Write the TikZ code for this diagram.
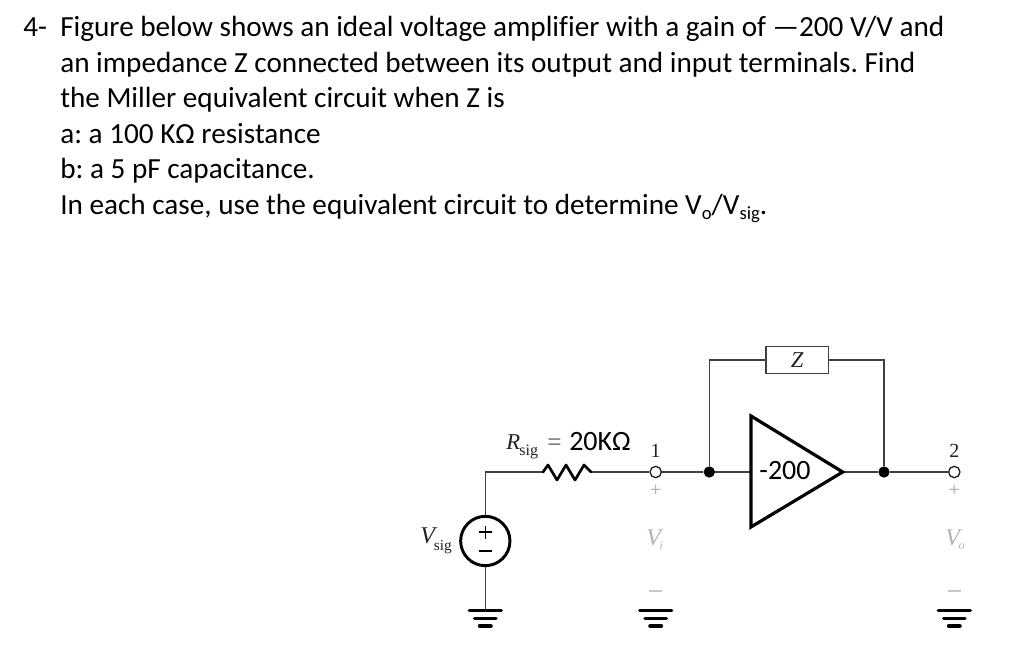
\documentclass[tikz,border=0pt]{standalone}
\usepackage{fontspec}
\setmainfont{Carlito}[Ligatures=NoCommon]
\newfontfamily\serifx{Liberation Serif}
\definecolor{ink}{gray}{0.13}
\definecolor{wire}{gray}{0.25}
\tikzset{
  x=0.75pt,y=-0.75pt,
  para/.style={anchor=base west,inner sep=0pt,font=\fontsize{21.9}{26}\selectfont\frenchspacing,text=black},
  wireline/.style={draw=wire,line width=1pt},
  heavy/.style={draw=black,line width=2.4pt},
  hollow/.style={circle,draw=ink,fill=white,line width=1pt,minimum size=8.5pt,inner sep=0pt},
  dot/.style={circle,fill=black,minimum size=8.5pt,inner sep=0pt},
  serifl/.style={inner sep=0pt,font=\serifx\fontsize{15}{17}\selectfont,text=ink},
  faint/.style={inner sep=0pt,font=\serifx\fontsize{15}{17}\selectfont,text=black!35},
  callout/.style={inner sep=0pt,font=\fontsize{21}{24}\selectfont,text=black},
}
\newcommand{\groundat}[1]{%
  \draw[line width=2.6pt,black,line cap=round] ([xshift=-12pt]#1) -- ([xshift=12pt]#1);
  \draw[line width=2.6pt,black,line cap=round] ([xshift=-8pt,yshift=-5.8pt]#1) -- ([xshift=8pt,yshift=-5.8pt]#1);
  \draw[line width=2.8pt,black,line cap=round] ([xshift=-4.2pt,yshift=-11.5pt]#1) -- ([xshift=4.2pt,yshift=-11.5pt]#1);
}
\newcommand{\lowsub}[1]{\raisebox{-0.15em}{\fontsize{14}{16}\selectfont #1}}
\begin{document}
\begin{tikzpicture}
\useasboundingbox (0,0) rectangle (1024,659);
\fill[white] (0,0) rectangle (1024,659);
% question text
\node[para] (q0) at (23,37) {4-};
\node[para] (q1) at (60,37) {Figure below shows an ideal voltage amplifier with a gain of —200 V/V and};
\node[para] (q2) at (60,73) {an impedance Z connected between its output and input terminals. Find};
\node[para] (q3) at (60,108) {the Miller equivalent circuit when Z is};
\node[para] (q4) at (60,144) {a: a 100 KΩ resistance};
\node[para] (q5) at (60,179) {b: a 5 pF capacitance.};
\node[para] (q6) at (60,215) {In each case, use the equivalent circuit to determine V\lowsub{o}/V\lowsub{sig}.};
% nodes
\node[circle,draw=black,line width=2.2pt,minimum size=37pt,inner sep=0pt,fill=white] (src) at (485.3,541) {};
\coordinate (corner) at (485.3,472);
\coordinate (rl) at (543,472);
\coordinate (rr) at (592,472);
\node[hollow] (n1) at (655.7,472) {};
\node[dot] (j1) at (709.3,472) {};
\node[dot] (j2) at (884,472) {};
\node[hollow] (n2) at (954.3,472) {};
\coordinate (ampin) at (751,472);
\coordinate (amptip) at (842.7,472);
\node[draw=wire,line width=1pt,minimum width=47pt,minimum height=20pt,inner sep=0pt,fill=white,font=\serifx\itshape\fontsize{17}{19}\selectfont,text=ink] (z) at (797.2,360) {Z};
\coordinate (g1) at (485.3,610.7);
\coordinate (g2) at (655.7,610.7);
\coordinate (g3) at (954.3,610.7);
\coordinate (zl) at (709.3,360);
\coordinate (zr) at (884,360);
% wires
\draw[wireline] (src) -- (corner) -- (rl);
\draw[wireline] (rr) -- (n1) -- (j1) -- (ampin);
\draw[wireline] (amptip) -- (j2) -- (n2);
\draw[wireline] (j1) -- (zl) -- (z);
\draw[wireline] (z) -- (zr) -- (j2);
\draw[wireline] (src) -- (g1);
% resistor
\draw[line width=2pt,black,line join=round,line cap=round] (rl) -- ++(5,-7) -- ++(9,15) -- ++(9,-15) -- ++(9,15) -- ++(9,-15) -- ++(7,7);
% amplifier
\draw[heavy,line join=miter,fill=white] (751,416) -- (842.7,472) -- (751,527) -- cycle;
\node[callout,anchor=base] (gain) at (785,479) {-200};
% source signs
\draw[black,line width=1.1pt] (478.8,532) -- (491.8,532) (485.3,525.5) -- (485.3,538.5);
\draw[black,line width=1.3pt] (479,551) -- (491.8,551);
% grounds
\groundat{g1}
\groundat{g2}
\groundat{g3}
% labels
\node[anchor=base west,inner sep=0pt,font=\serifx\fontsize{17}{19}\selectfont,text=ink] (rlab) at (506,449) {\textit{R}\kern-0.5pt\raisebox{-0.3em}{\fontsize{12}{12}\selectfont sig}};
\node[anchor=base west,inner sep=0pt,font=\serifx\fontsize{19}{21}\selectfont,text=black!65] (eq) at (547,450) {=};
\node[callout,anchor=base west] (rval) at (569,450) {20KΩ};
\node[serifl,anchor=base] (one) at (655.7,457) {1};
\node[serifl,anchor=base] (two) at (954.3,457) {2};
\node[anchor=base west,inner sep=0pt,font=\serifx\fontsize{18}{20}\selectfont,text=ink] (vs) at (420,543) {\textit{V}\kern-2.5pt\raisebox{-0.3em}{\fontsize{11.5}{12}\selectfont sig}};
\node[faint] (p1) at (655.7,491) {+};
\node[faint] (p2) at (954.3,491) {+};
\node[anchor=base west,inner sep=0pt,font=\serifx\itshape\fontsize{18}{20}\selectfont,text=black!30] (vi) at (646,545) {V\kern-1pt\raisebox{-0.2em}{\fontsize{9}{9}\selectfont i}};
\node[anchor=base west,inner sep=0pt,font=\serifx\itshape\fontsize{18}{20}\selectfont,text=black!30] (vo) at (945,545) {V\kern-1pt\raisebox{-0.2em}{\fontsize{9}{9}\selectfont o}};
\draw[black!22,line width=0.8pt] (649,591) -- (662,591);
\draw[black!22,line width=0.8pt] (948,591) -- (961,591);
\end{tikzpicture}
\end{document}
